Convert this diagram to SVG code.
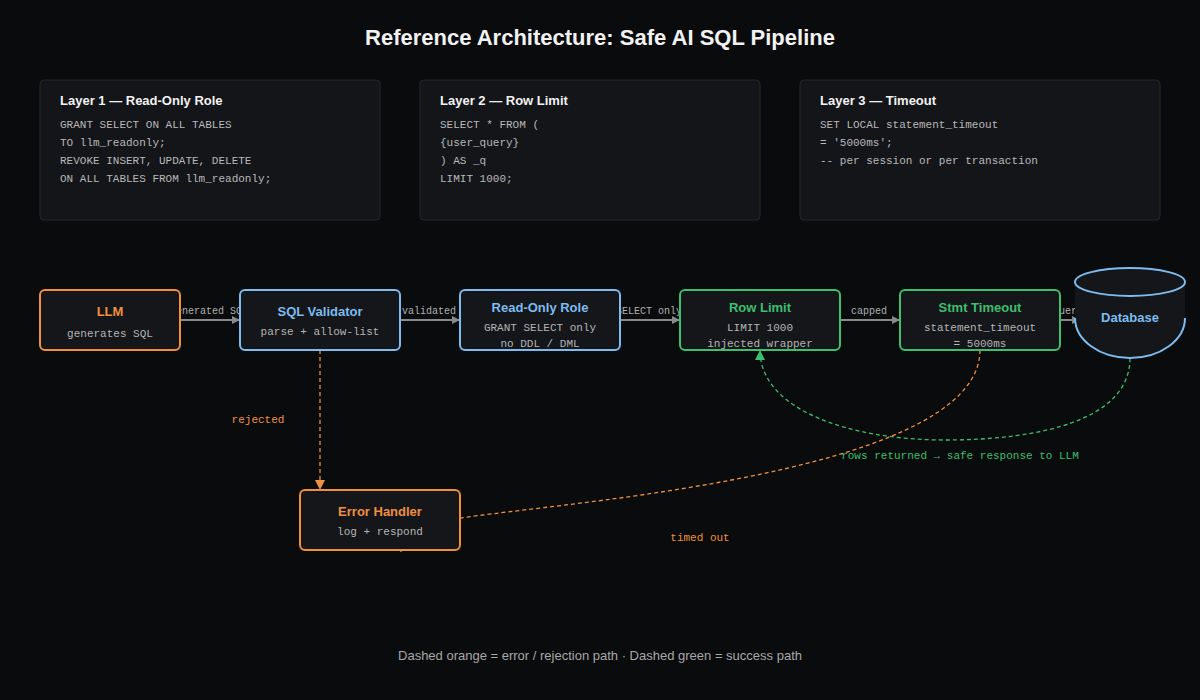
<svg xmlns="http://www.w3.org/2000/svg" width="1200" height="700" viewBox="0 0 1200 700">
<style>
.panel{fill:#141519;stroke:#25272c;stroke-width:1}
.ph{font:bold 13px "Liberation Sans",Arial,sans-serif;fill:#f2f2f2}
.code{font:11px "Liberation Mono","DejaVu Sans Mono",monospace;fill:#b8b8b8}
.node{fill:#15161a;stroke-width:2}
.nt{font:bold 13px "Liberation Sans",Arial,sans-serif;text-anchor:middle}
.ns{font:11px "Liberation Mono","DejaVu Sans Mono",monospace;fill:#b4b4b4;text-anchor:middle}
.el{font:10px "Liberation Mono","DejaVu Sans Mono",monospace;fill:#b0b0b0;text-anchor:middle}
.edge{stroke:#8a8a8a;stroke-width:2;fill:none}
</style>
<defs>
<marker id="ag" viewBox="0 0 10 10" refX="10" refY="5" markerWidth="8" markerHeight="8" markerUnits="userSpaceOnUse" orient="auto"><path d="M0,0L10,5L0,10z" fill="#8a8a8a"/></marker>
<marker id="ao" viewBox="0 0 10 10" refX="10" refY="5" markerWidth="10" markerHeight="10" markerUnits="userSpaceOnUse" orient="auto"><path d="M0,0L10,5L0,10z" fill="#f0903c"/></marker>
<marker id="agr" viewBox="0 0 10 10" refX="10" refY="5" markerWidth="10" markerHeight="10" markerUnits="userSpaceOnUse" orient="auto"><path d="M0,0L10,5L0,10z" fill="#3cbf6e"/></marker>
</defs>
<rect width="1200" height="700" fill="#0a0b0d"/>
<text x="600" y="45" text-anchor="middle" font-family="Liberation Sans,Arial,sans-serif" font-weight="bold" font-size="22" fill="#f2f2f2">Reference Architecture: Safe AI SQL Pipeline</text>

<g id="layer1"><rect class="panel" x="40" y="80" width="340" height="140" rx="4"/>
<text class="ph" x="60" y="105">Layer 1 — Read-Only Role</text>
<text class="code" x="60" y="128">GRANT SELECT ON ALL TABLES</text>
<text class="code" x="60" y="146">TO llm_readonly;</text>
<text class="code" x="60" y="164">REVOKE INSERT, UPDATE, DELETE</text>
<text class="code" x="60" y="182">ON ALL TABLES FROM llm_readonly;</text></g>
<g id="layer2"><rect class="panel" x="420" y="80" width="340" height="140" rx="4"/>
<text class="ph" x="440" y="105">Layer 2 — Row Limit</text>
<text class="code" x="440" y="128">SELECT * FROM (</text>
<text class="code" x="440" y="146">{user_query}</text>
<text class="code" x="440" y="164">) AS _q</text>
<text class="code" x="440" y="182">LIMIT 1000;</text></g>
<g id="layer3"><rect class="panel" x="800" y="80" width="360" height="140" rx="4"/>
<text class="ph" x="820" y="105">Layer 3 — Timeout</text>
<text class="code" x="820" y="128">SET LOCAL statement_timeout</text>
<text class="code" x="820" y="146">= '5000ms';</text>
<text class="code" x="820" y="164">-- per session or per transaction</text></g>

<g id="connectors">
<line class="edge" x1="180" y1="320" x2="240" y2="320" marker-end="url(#ag)"/>
<text class="el" x="209" y="314">generated SQL</text>
<line class="edge" x1="400" y1="320" x2="460" y2="320" marker-end="url(#ag)"/>
<text class="el" x="429" y="314">validated</text>
<line class="edge" x1="620" y1="320" x2="680" y2="320" marker-end="url(#ag)"/>
<text class="el" x="649" y="314">SELECT only</text>
<line class="edge" x1="840" y1="320" x2="900" y2="320" marker-end="url(#ag)"/>
<text class="el" x="869" y="314">capped</text>
<line class="edge" x1="1060" y1="320" x2="1080" y2="320" marker-end="url(#ag)"/>
<text class="el" x="1068" y="314">query</text>
<line x1="320" y1="350" x2="320" y2="490" stroke="#f0903c" stroke-width="1.3" stroke-dasharray="4,3" marker-end="url(#ao)"/>
<text x="258" y="423" text-anchor="middle" font-family="Liberation Mono,monospace" font-size="11" fill="#f0903c">rejected</text>
<path d="M980,350 C980,480 520,505 450,520 C420,525 410,540 400,552" fill="none" stroke="#f0903c" stroke-width="1.3" stroke-dasharray="4,3" marker-end="url(#ao)"/>
<text x="700" y="541" text-anchor="middle" font-family="Liberation Mono,monospace" font-size="11" fill="#f0903c">timed out</text>
<path d="M1130,358 C1130,420 1040,440 945,440 C850,440 760,410 760,350" fill="none" stroke="#3cbf6e" stroke-width="1.3" stroke-dasharray="4,3" marker-end="url(#agr)"/>
<text x="960" y="459" text-anchor="middle" font-family="Liberation Mono,monospace" font-size="11" fill="#3cbf6e">rows returned → safe response to LLM</text>
</g>

<g id="llm"><rect class="node" x="40" y="290" width="140" height="60" rx="5" stroke="#f0903c"/>
<text class="nt" x="110" y="316" fill="#f0903c" font-size="15">LLM</text>
<text class="ns" x="110" y="337">generates SQL</text></g>
<g id="validator"><rect class="node" x="240" y="290" width="160" height="60" rx="5" stroke="#7cbcf0"/>
<text class="nt" x="320" y="316" fill="#7cbcf0">SQL Validator</text>
<text class="ns" x="320" y="335">parse + allow-list</text></g>
<g id="readonly"><rect class="node" x="460" y="290" width="160" height="60" rx="5" stroke="#7cbcf0"/>
<text class="nt" x="540" y="312" fill="#7cbcf0">Read-Only Role</text>
<text class="ns" x="540" y="331">GRANT SELECT only</text>
<text class="ns" x="540" y="347">no DDL / DML</text></g>
<g id="rowlimit"><rect class="node" x="680" y="290" width="160" height="60" rx="5" stroke="#3cbf6e"/>
<text class="nt" x="760" y="312" fill="#3cbf6e">Row Limit</text>
<text class="ns" x="760" y="331">LIMIT 1000</text>
<text class="ns" x="760" y="347">injected wrapper</text></g>
<g id="timeout"><rect class="node" x="900" y="290" width="160" height="60" rx="5" stroke="#3cbf6e"/>
<text class="nt" x="980" y="312" fill="#3cbf6e">Stmt Timeout</text>
<text class="ns" x="980" y="331">statement_timeout</text>
<text class="ns" x="980" y="347">= 5000ms</text></g>
<g id="database">
<path d="M1075,282 L1075,318 A55,40 0 0 0 1185,318 L1185,282 Z" fill="#15161a"/>
<path d="M1075,318 A55,40 0 0 0 1185,318" fill="none" stroke="#7cbcf0" stroke-width="2"/>
<ellipse cx="1130" cy="282" rx="55" ry="14" fill="#15161a" stroke="#7cbcf0" stroke-width="2"/>
<text class="nt" x="1130" y="322" fill="#7cbcf0">Database</text></g>
<g id="error"><rect class="node" x="300" y="490" width="160" height="60" rx="5" stroke="#f0903c"/>
<text class="nt" x="380" y="516" fill="#f0903c">Error Handler</text>
<text class="ns" x="380" y="535">log + respond</text></g>

<text x="600" y="660" text-anchor="middle" font-family="Liberation Sans,Arial,sans-serif" font-size="13" fill="#a8a8a8">Dashed orange = error / rejection path · Dashed green = success path</text>
</svg>
